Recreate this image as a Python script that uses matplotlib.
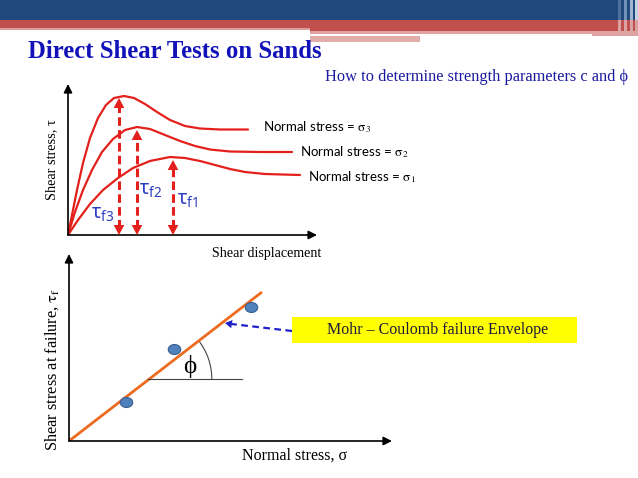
import matplotlib
matplotlib.use("Agg")
from matplotlib import pyplot as plt
from matplotlib.patches import Rectangle, Arc
from matplotlib.path import Path
from matplotlib.transforms import Affine2D

# stress - displacement curves (displacement, shear stress)
disp_s3 = [0, 0.16, 0.36, 0.6, 0.88, 1.2, 1.52, 1.84, 2.24, 2.64, 3.08, 3.56, 4.08, 4.68, 5.28, 6.08, 7.2]
tau_s3 = [0, 0.8, 1.8, 2.88, 3.88, 4.68, 5.2, 5.48, 5.56, 5.48, 5.24, 4.92, 4.6, 4.36, 4.26, 4.22, 4.22]

disp_s2 = [0, 0.28, 0.6, 0.96, 1.36, 1.8, 2.28, 2.76, 3.28, 3.88, 4.48, 5.08, 5.68, 6.48, 7.68, 8.96]
tau_s2 = [0, 0.92, 1.8, 2.6, 3.32, 3.84, 4.2, 4.32, 4.24, 4.0, 3.76, 3.56, 3.42, 3.34, 3.32, 3.32]

disp_s1 = [0, 0.4, 0.88, 1.4, 2.0, 2.6, 3.28, 4.08, 4.68, 5.28, 5.88, 6.48, 7.08, 7.88, 9.28]
tau_s1 = [0, 0.6, 1.24, 1.8, 2.28, 2.68, 2.96, 3.12, 3.08, 2.96, 2.8, 2.64, 2.52, 2.44, 2.4]

curve_labels = ["Normal stress = $\\mathrm{\\sigma_3}$", "Normal stress = $\\mathrm{\\sigma_2}$",
                "Normal stress = $\\mathrm{\\sigma_1}$"]

# peak (failure) markers
fail_disp = [2.04, 2.76, 4.2]
fail_tau = [5.48, 4.2, 3.0]
fail_names = ["$\\tau_{\\mathrm{f3}}$", "$\\tau_{\\mathrm{f2}}$", "$\\tau_{\\mathrm{f1}}$"]

# failure envelope data (normal stress, shear stress at failure)
sigma_pts = [2.28, 4.2, 7.28]
tauf_pts = [1.56, 3.68, 5.36]
phi_deg = 37.7
env_end = 7.72
slope = 0.772

plt.rcParams['mathtext.fontset'] = 'custom'
plt.rcParams['mathtext.rm'] = 'Noto Sans'
plt.rcParams['mathtext.it'] = 'Noto Sans'

W, H = 638, 478
fig = plt.figure(figsize=(W / 100, H / 100), dpi=100)

def fx(px):
    return px / W

def fy(py):
    return 1 - py / H

def band(x0, y0, x1, y1, color):
    fig.patches.append(Rectangle((fx(x0), fy(y1)), fx(x1) - fx(x0), fy(y0) - fy(y1),
                                 transform=fig.transFigure, color=color, lw=0, zorder=0))

# banner
band(0, 0, W, 20, "#1f497d")
band(0, 20, W, 28, "#c0504d")
band(0, 28, 310, 30, "#dc9c9a")
band(310, 28, W, 31, "#c0504d")
band(310, 31, W, 33.5, "#e0a3a1")
band(592, 33.5, W, 36, "#e0a3a1")
band(310, 36, 420, 42, "#e3adab")
for xs, c in [(618, "#4d6f9c"), (624, "#7391b8"), (630, "#9fb4cf"), (635, "#c4d2e4")]:
    band(xs, 0, xs + 3, 20, c)
    band(xs, 20, xs + 3, 36, "#d9a3a2")

fig.text(fx(28), fy(52), "Direct Shear Tests on Sands", family="Liberation Serif",
         weight="bold", fontsize=17.8, color="#1212b8", va="center", ha="left")
fig.text(fx(628), fy(77), "How to determine strength parameters c and \u03d5",
         family=["Liberation Serif", "DejaVu Serif"], fontsize=11.8, color="#1a1aa0",
         va="center", ha="right")

arrow_ax = dict(arrowstyle="-|>,head_length=0.5,head_width=0.25", color="black",
                lw=1.2, mutation_scale=10, shrinkA=0, shrinkB=0)

# ---- top chart: shear stress vs displacement
ax1 = fig.add_axes([fx(68), fy(235), 250 / W, 150 / H])
ax1.set_xlim(0, 10)
ax1.set_ylim(0, 6)
ax1.axis("off")

red = "#e3201b"
for d, t in [(disp_s3, tau_s3), (disp_s2, tau_s2), (disp_s1, tau_s1)]:
    ax1.plot(d, t, color=red, lw=1.6, solid_capstyle="round", solid_joinstyle="round")

ax1.annotate("", xy=(9.96, 0), xytext=(0, 0), arrowprops=arrow_ax, annotation_clip=False)
ax1.annotate("", xy=(0, 6.04), xytext=(0, 0), arrowprops=arrow_ax, annotation_clip=False)

head = dict(arrowstyle="-|>,head_length=0.6,head_width=0.32", color=red, lw=0,
            mutation_scale=12, shrinkA=0, shrinkB=0)
for x, t in zip(fail_disp, fail_tau):
    ax1.plot([x, x], [0.3, t - 0.3], color=red, lw=2.2, linestyle=(0, (2.8, 1.4)))
    ax1.annotate("", xy=(x, t), xytext=(x, t - 0.45), arrowprops=head)
    ax1.annotate("", xy=(x, 0), xytext=(x, 0.45), arrowprops=head)

label_pos = [(1.4, 0.8), (3.32, 1.76), (4.76, 1.36)]
for (lx, ly), name in zip(label_pos, fail_names):
    ax1.text(lx, ly, name, fontsize=14, color="#2b3fbf", ha="center", va="center")

label_xy = [(7.8, 4.32), (9.28, 3.32), (9.6, 2.32)]
for (lx, ly), lab in zip(label_xy, curve_labels):
    ax1.text(lx, ly, lab, family="Lato", fontsize=9.5, ha="left", va="center",
             math_fontfamily="stix", clip_on=False)

fig.text(fx(267), fy(253), "Shear displacement", family="Liberation Serif", fontsize=10.1,
         ha="center", va="center")
fig.text(fx(52), fy(160), "Shear stress, \u03c4", family="Liberation Serif", fontsize=10.3,
         ha="center", va="center", rotation=90)

# ---- bottom chart: failure envelope
ax2 = fig.add_axes([fx(69), fy(441), 330 / W, 190 / H])
ax2.set_xlim(0, 13.2)
ax2.set_ylim(0, 7.6)
ax2.axis("off")

ax2.annotate("", xy=(12.92, 0), xytext=(0, 0), arrowprops=arrow_ax, annotation_clip=False)
ax2.annotate("", xy=(0, 7.48), xytext=(0, 0), arrowprops=arrow_ax, annotation_clip=False)

ax2.plot([0, env_end], [0, env_end * slope], color="#ec6b1f", lw=2.0, solid_capstyle="butt")

ellipse = Path.unit_circle().transformed(Affine2D().scale(1.25, 1.0))
ax2.plot(sigma_pts, tauf_pts, linestyle="none", marker=ellipse, ms=9,
         markerfacecolor="#4f81bd", markeredgecolor="#3a5f8c", markeredgewidth=0.8, zorder=5)

# angle phi
y_ref = 2.48
x_ref = y_ref / slope
ax2.plot([3.16, 6.92], [y_ref, y_ref], color="#444444", lw=0.8)
ax2.add_patch(Arc((x_ref, y_ref), 2 * 2.5, 2 * 2.5, theta1=0, theta2=phi_deg,
                  color="#444444", lw=0.8))
ax2.text(4.84, 2.96, "\u03d5", family=["Liberation Serif", "DejaVu Serif"], fontsize=18,
         ha="center", va="center")

# Mohr-Coulomb box
ax2.add_patch(Rectangle((8.92, 3.92), 11.4, 1.04, color="#ffff00", lw=0, clip_on=False))
ax2.text(14.76, 4.44, "Mohr \u2013 Coulomb failure Envelope", family="Liberation Serif",
         fontsize=11.5, color="#1c1c3c", ha="center", va="center", clip_on=False)
ax2.plot([8.92, 6.5], [4.4, 4.68], color="#2020c8", lw=1.6, linestyle=(0, (3, 2)),
         clip_on=False)
ax2.annotate("", xy=(6.24, 4.72), xytext=(6.6, 4.66),
             arrowprops=dict(arrowstyle="-|>,head_length=0.5,head_width=0.3", color="#2020c8",
                             lw=0, mutation_scale=10, shrinkA=0, shrinkB=0))

fig.text(fx(295), fy(456), "Normal stress, \u03c3", family="Liberation Serif", fontsize=11.5,
         ha="center", va="center")
fig.text(fx(52), fy(369), "Shear stress at failure, $\\mathrm{\\tau_f}$",
         family="Liberation Serif", fontsize=11.8, ha="center", va="center", rotation=90,
         math_fontfamily="stix")

fig.savefig("out.png", dpi=100)
